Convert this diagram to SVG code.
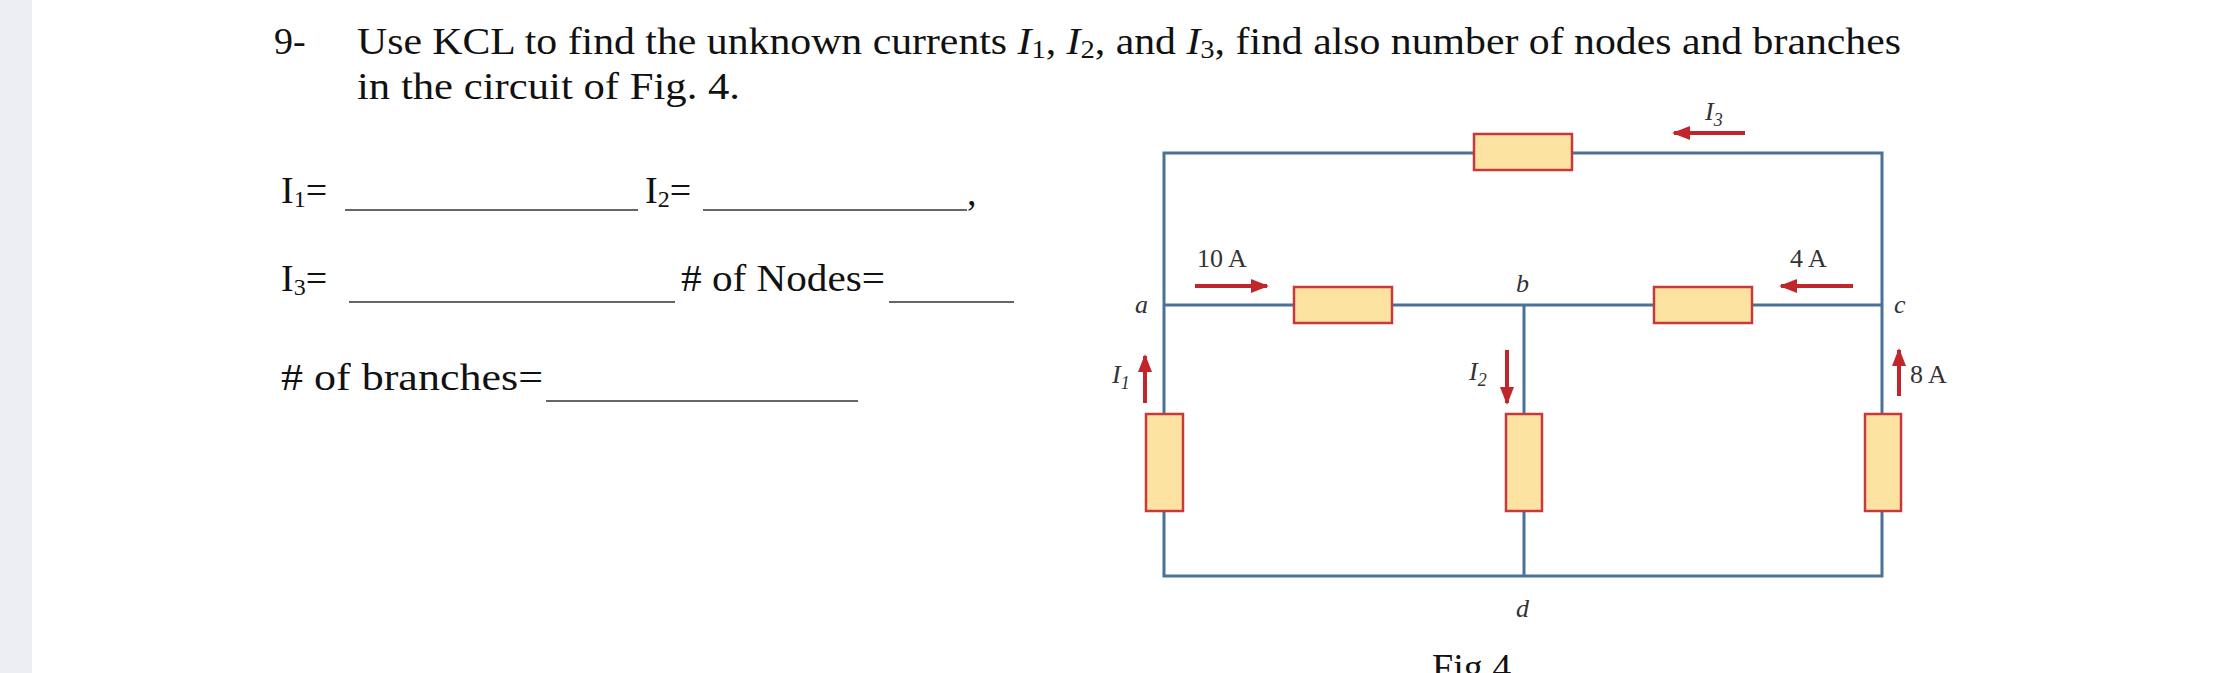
<svg xmlns="http://www.w3.org/2000/svg" width="2224" height="673" viewBox="0 0 2224 673">
<style>
.t{font-family:"Liberation Serif",serif;font-size:38px;fill:#111}
.l{font-family:"Liberation Serif",serif;font-size:26px;fill:#333}
.i{font-style:italic}
.u{stroke:#333;stroke-width:1.6}
.w{stroke:#4a7298;stroke-width:3;fill:none}
.r{fill:#fde3a1;stroke:#c9383b;stroke-width:2.5}
.a{stroke:#c0272d;stroke-width:4;fill:none}
</style>
<defs><marker id="ah" markerWidth="18" markerHeight="14" refX="16" refY="7" orient="auto" markerUnits="userSpaceOnUse"><path d="M0,0L18,7L0,14z" fill="#c0272d"/></marker></defs>
<rect width="2224" height="673" fill="#fff"/>
<rect width="32" height="673" fill="#eceef3"/>
<g id="question">
<text class="t" x="274" y="54">9-</text>
<text class="t" x="357" y="54" textLength="1544" lengthAdjust="spacingAndGlyphs">Use KCL to find the unknown currents <tspan class="i">I</tspan><tspan font-size="26" dy="4">1</tspan><tspan dy="-4">, </tspan><tspan class="i">I</tspan><tspan font-size="26" dy="4">2</tspan><tspan dy="-4">, and </tspan><tspan class="i">I</tspan><tspan font-size="26" dy="4">3</tspan><tspan dy="-4">, find also number of nodes and branches</tspan></text>
<text class="t" x="357" y="99" textLength="383" lengthAdjust="spacingAndGlyphs">in the circuit of Fig. 4.</text>
<text class="t" x="281" y="203">I<tspan font-size="24" dy="4">1</tspan><tspan dy="-4">=</tspan></text>
<line class="u" x1="345" y1="210" x2="638" y2="210"/>
<text class="t" x="645" y="203">I<tspan font-size="24" dy="4">2</tspan><tspan dy="-4">=</tspan></text>
<line class="u" x1="703" y1="210" x2="967" y2="210"/>
<text class="t" x="967" y="205">,</text>
<text class="t" x="281" y="291">I<tspan font-size="24" dy="4">3</tspan><tspan dy="-4">=</tspan></text>
<line class="u" x1="349" y1="302" x2="675" y2="302"/>
<text class="t" x="681" y="291" textLength="204" lengthAdjust="spacingAndGlyphs"># of Nodes=</text>
<line class="u" x1="889" y1="302" x2="1014" y2="302"/>
<text class="t" x="281" y="390" textLength="262" lengthAdjust="spacingAndGlyphs"># of branches=</text>
<line class="u" x1="546" y1="401" x2="858" y2="401"/>
</g>
<g id="connectors">
<path class="w" d="M1164,153H1882V576H1164Z"/>
<path class="w" d="M1164,305H1882M1524,305V576"/>
</g>
<g id="R_top"><rect class="r" x="1474" y="134" width="98" height="36"/></g>
<g id="R_ab"><rect class="r" x="1294" y="287" width="98" height="36"/></g>
<g id="R_bc"><rect class="r" x="1654" y="287" width="98" height="36"/></g>
<g id="R_ad"><rect class="r" x="1146" y="414" width="37" height="97"/></g>
<g id="R_bd"><rect class="r" x="1506" y="414" width="36" height="97"/></g>
<g id="R_cd"><rect class="r" x="1865" y="414" width="36" height="97"/></g>
<g id="arrows">
<line class="a" x1="1745" y1="133" x2="1674" y2="133" marker-end="url(#ah)"/>
<line class="a" x1="1195" y1="286" x2="1267" y2="286" marker-end="url(#ah)"/>
<line class="a" x1="1853" y1="286" x2="1781" y2="286" marker-end="url(#ah)"/>
<line class="a" x1="1145" y1="403" x2="1145" y2="356" marker-end="url(#ah)"/>
<line class="a" x1="1507" y1="350" x2="1507" y2="403" marker-end="url(#ah)"/>
<line class="a" x1="1899" y1="396" x2="1899" y2="350" marker-end="url(#ah)"/>
</g>
<g id="labels">
<text class="l i" x="1705" y="120">I<tspan font-size="18" dy="6">3</tspan></text>
<text class="l" x="1197" y="267">10 A</text>
<text class="l" x="1790" y="267">4 A</text>
<text class="l i" x="1135" y="313" fill="#777">a</text>
<text class="l i" x="1516" y="292">b</text>
<text class="l i" x="1894" y="313" fill="#777">c</text>
<text class="l i" x="1516" y="617">d</text>
<text class="l i" x="1112" y="383">I<tspan font-size="18" dy="6">1</tspan></text>
<text class="l i" x="1469" y="380">I<tspan font-size="18" dy="6">2</tspan></text>
<text class="l" x="1910" y="383">8 A</text>
<text class="t" x="1432" y="680" font-size="30">Fig 4</text>
</g>
</svg>
